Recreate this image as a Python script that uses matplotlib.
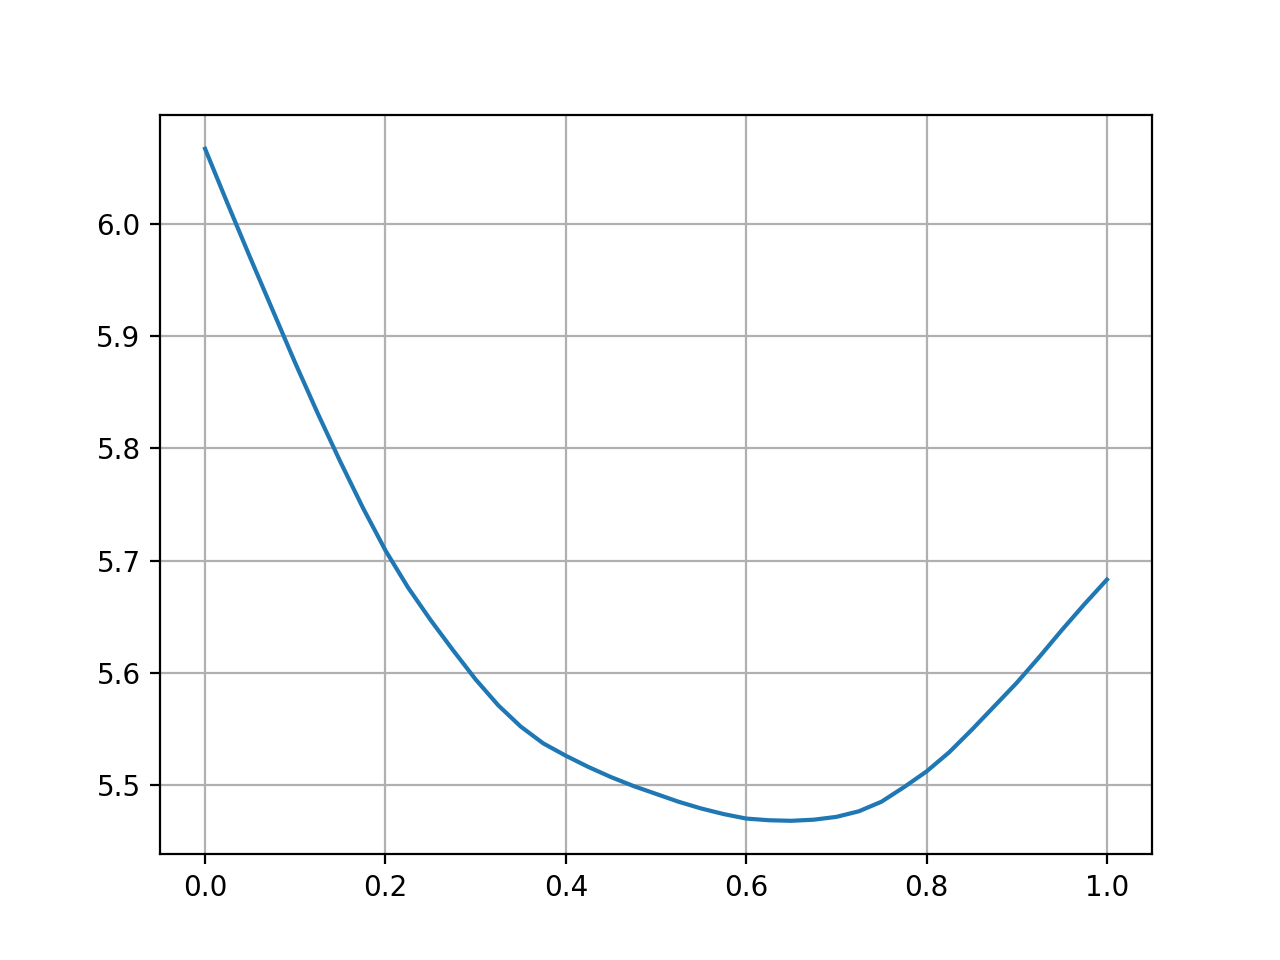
import matplotlib
matplotlib.use("Agg")
import matplotlib.pyplot as plt
import numpy as np

# values, every 0.025 along x
x_values = [0.000, 0.025, 0.050, 0.075, 0.100, 0.125, 0.150, 0.175, 0.200, 0.225,
            0.250, 0.275, 0.300, 0.325, 0.350, 0.375, 0.400, 0.425, 0.450, 0.475,
            0.500, 0.525, 0.550, 0.575, 0.600, 0.625, 0.650, 0.675, 0.700, 0.725,
            0.750, 0.775, 0.800, 0.825, 0.850, 0.875, 0.900, 0.925, 0.950, 0.975,
            1.000]
y_values = [6.067, 6.018, 5.970, 5.923, 5.876, 5.831, 5.788, 5.747, 5.709, 5.676,
            5.647, 5.620, 5.594, 5.571, 5.552, 5.537, 5.526, 5.516, 5.507, 5.499,
            5.492, 5.485, 5.479, 5.474, 5.470, 5.4685, 5.468, 5.469, 5.4715, 5.4765,
            5.485, 5.498, 5.512, 5.529, 5.549, 5.570, 5.591, 5.614, 5.638, 5.661,
            5.683]


def main():
    fig, ax = plt.subplots(figsize=(6.4, 4.8))
    ax.plot(np.array(x_values), np.array(y_values))
    ax.grid(True)
    fig.savefig("out.png", dpi=200)
    plt.close(fig)


if __name__ == "__main__":
    main()
